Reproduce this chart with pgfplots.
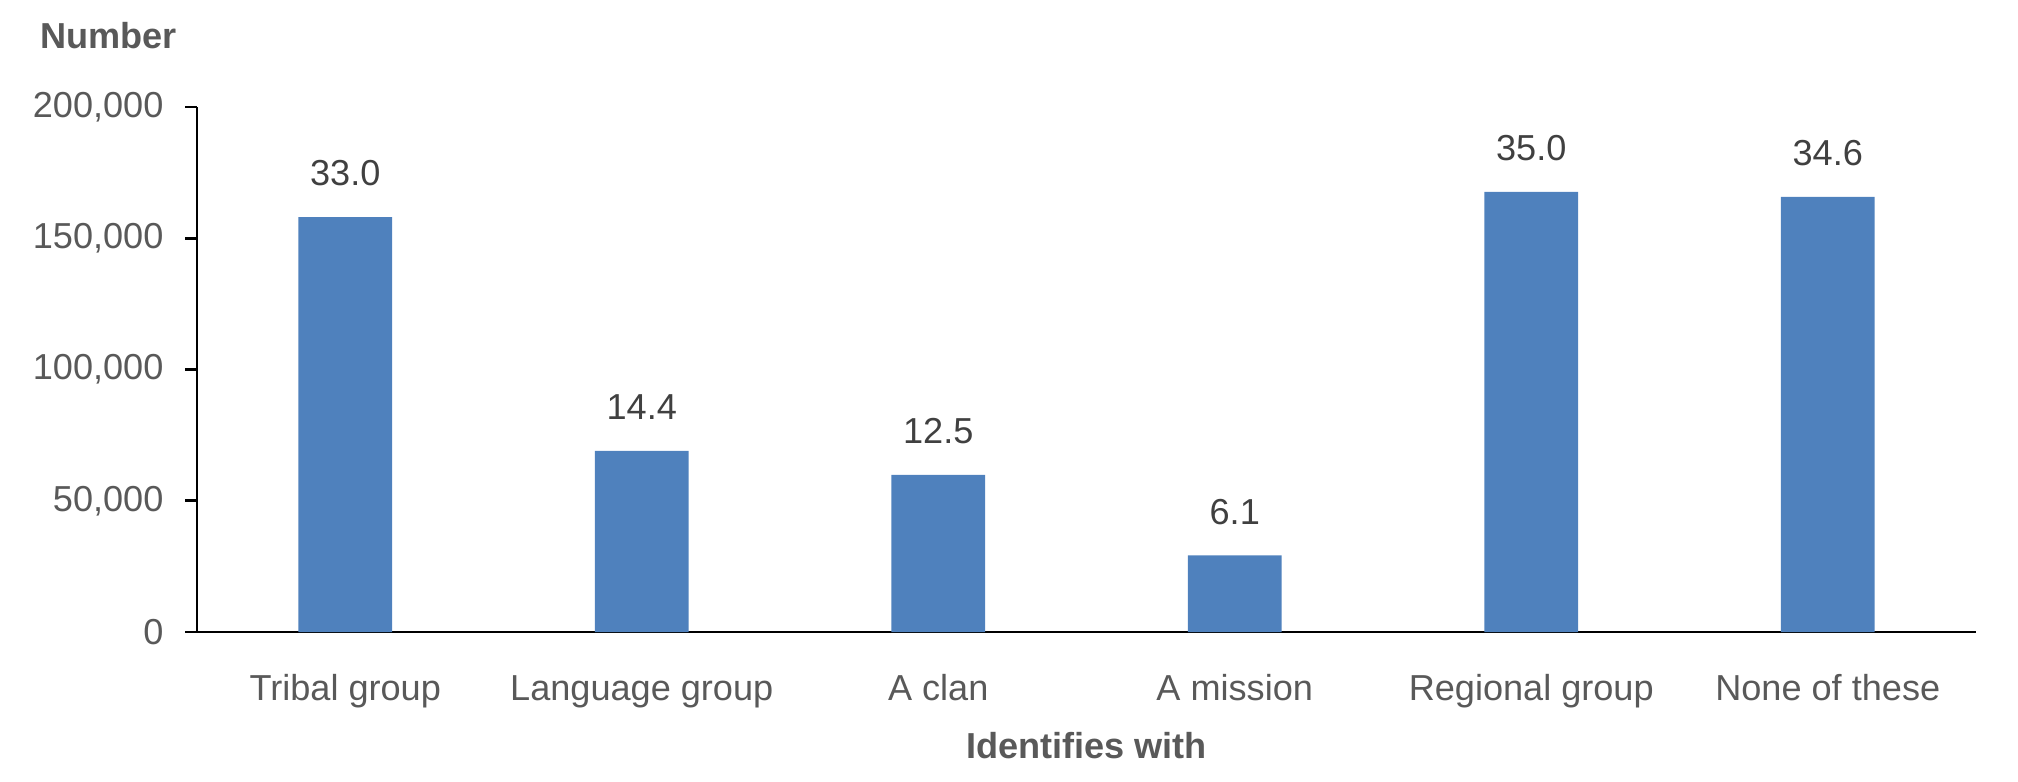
\documentclass[border=0pt]{standalone}
\usepackage{pgfplots}
\pgfplotsset{compat=1.18}
\usepackage{fontspec}
\setmainfont{Liberation Sans}
\definecolor{barblue}{HTML}{4F81BD}
\definecolor{labelgray}{HTML}{595959}
\definecolor{valuegray}{HTML}{404040}
\begin{document}
\begin{tikzpicture}
\begin{axis}[
  name=ax,
  scale only axis,
  width=640.4pt, height=189pt,
  ybar, bar width=33.8pt,
  xmin=-0.5, xmax=5.5,
  ymin=0, ymax=200000,
  ytick={0,50000,100000,150000,200000},
  yticklabels={0,{50,000},{100,000},{150,000},{200,000}},
  scaled y ticks=false,
  xtick=data,
  xticklabels={Tribal group,Language group,A clan,A mission,Regional group,None of these},
  axis x line*=bottom, axis y line*=left,
  axis line style={line width=1pt, black},
  every outer x axis line/.append style={-},
  every outer y axis line/.append style={-},
  x tick style={draw=none},
  y tick style={line width=1pt, black},
  major tick length=4.3pt,
  tick align=outside,
  font=\fontsize{13}{15}\selectfont,
  yticklabel style={anchor=east, inner sep=0pt, xshift=-7.6pt, text=labelgray},
  xticklabel style={anchor=base, inner sep=0pt, yshift=-20.5pt, text=labelgray},
  every axis y label/.style={at={(rel axis cs:0,1)}, anchor=base west, inner sep=0pt,
    xshift=-56.5pt, yshift=20.9pt, font=\fontsize{13}{15}\selectfont\bfseries, text=labelgray},
  every axis x label/.style={at={(rel axis cs:0.5,0)}, anchor=base, inner sep=0pt,
    yshift=-45.7pt, font=\fontsize{13}{15}\selectfont\bfseries, text=labelgray},
  ylabel={Number},
  xlabel={Identifies with},
  point meta=explicit symbolic,
  nodes near coords={\pgfplotspointmeta},
  every node near coord/.style={anchor=base, inner sep=0pt, yshift=11.2pt,
    font=\fontsize{13}{15}\selectfont, text=valuegray},
  clip=false,
]
% Number of people by group identified with; labels give the percentage share
\addplot[fill=barblue, draw=none] coordinates {
  (0,158100) [33.0]
  (1,69000)  [14.4]
  (2,59900)  [12.5]
  (3,29200)  [6.1]
  (4,167700) [35.0]
  (5,165800) [34.6]
};
\end{axis}
\pgfresetboundingbox
\path ([xshift=-70.92pt, yshift=-53.64pt]ax.south west) rectangle ([xshift=15.12pt, yshift=38.52pt]ax.north east);
\end{tikzpicture}
\end{document}
